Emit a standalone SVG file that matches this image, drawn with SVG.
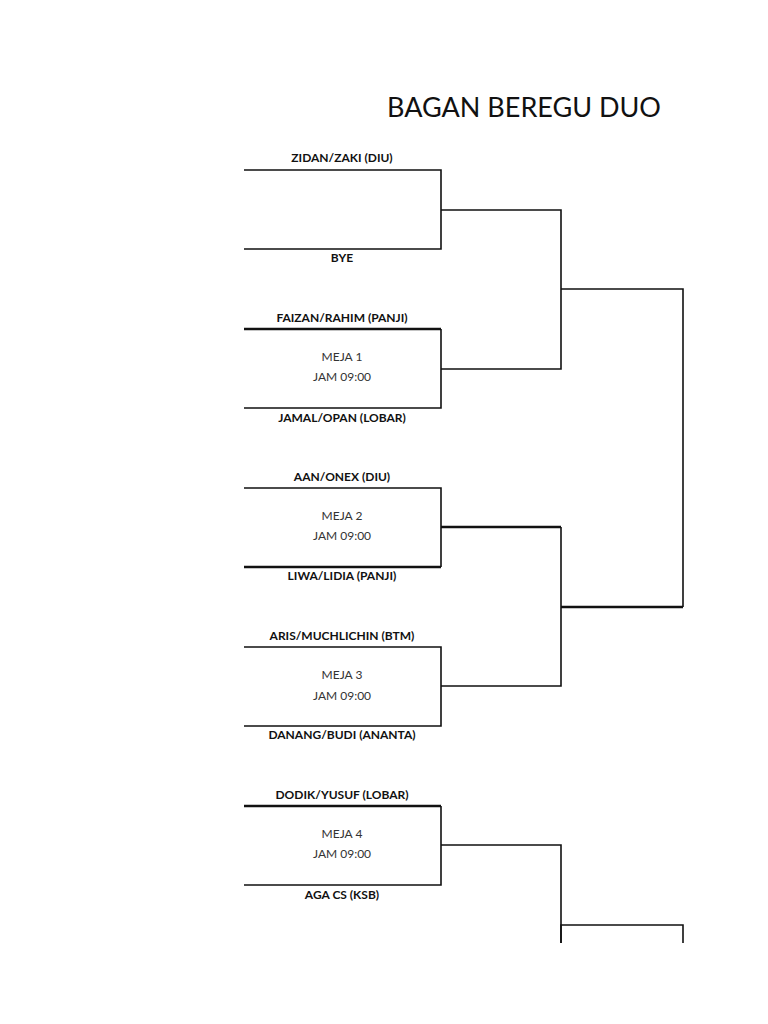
<svg xmlns="http://www.w3.org/2000/svg" width="768" height="1024" viewBox="0 0 768 1024">
<style>
.t{font-family:Lato,"Open Sans","Liberation Sans",sans-serif;}
.title{font-size:27px;fill:#111;}
.name{font-size:12px;font-weight:bold;fill:#111;text-anchor:middle;}
.info{font-size:12px;fill:#333;text-anchor:middle;}
.ln{stroke:#111;stroke-width:1.6;fill:none;}
.tk{stroke:#111;stroke-width:2.6;fill:none;}
</style>
<rect width="768" height="1024" fill="#fff"/>
<text class="t title" x="524" y="117" text-anchor="middle">BAGAN BEREGU DUO</text>
<g id="match1">
<text class="t name" x="342" y="162">ZIDAN/ZAKI (DIU)</text>
<path class="ln" d="M244 170H441V249H244"/>
<text class="t name" x="342" y="262">BYE</text>
</g>
<g id="match2">
<text class="t name" x="342" y="322">FAIZAN/RAHIM (PANJI)</text>
<path class="tk" d="M244 329H441"/>
<path class="ln" d="M441 329V408H244"/>
<text class="t info" x="342" y="361">MEJA 1</text>
<text class="t info" x="342" y="381">JAM 09:00</text>
<text class="t name" x="342" y="422">JAMAL/OPAN (LOBAR)</text>
</g>
<g id="match3">
<text class="t name" x="342" y="481">AAN/ONEX (DIU)</text>
<path class="ln" d="M244 488H441V567"/>
<path class="tk" d="M244 567H441"/>
<text class="t info" x="342" y="520">MEJA 2</text>
<text class="t info" x="342" y="540">JAM 09:00</text>
<text class="t name" x="342" y="580">LIWA/LIDIA (PANJI)</text>
</g>
<g id="match4">
<text class="t name" x="342" y="640">ARIS/MUCHLICHIN (BTM)</text>
<path class="ln" d="M244 647H441V726H244"/>
<text class="t info" x="342" y="679">MEJA 3</text>
<text class="t info" x="342" y="700">JAM 09:00</text>
<text class="t name" x="342" y="739">DANANG/BUDI (ANANTA)</text>
</g>
<g id="match5">
<text class="t name" x="342" y="799">DODIK/YUSUF (LOBAR)</text>
<path class="tk" d="M244 806H441"/>
<path class="ln" d="M441 806V885H244"/>
<text class="t info" x="342" y="838">MEJA 4</text>
<text class="t info" x="342" y="858">JAM 09:00</text>
<text class="t name" x="342" y="899">AGA CS (KSB)</text>
</g>
<g id="connectors">
<path class="ln" d="M441 210H561V369H441"/>
<path class="ln" d="M441 686H561V527"/>
<path class="tk" d="M441 527H561"/>
<path class="ln" d="M561 289H683V607"/>
<path class="tk" d="M561 607H683"/>
<path class="ln" d="M441 845H561V943"/>
<path class="ln" d="M561 943V925H683V943"/>
</g>
</svg>
